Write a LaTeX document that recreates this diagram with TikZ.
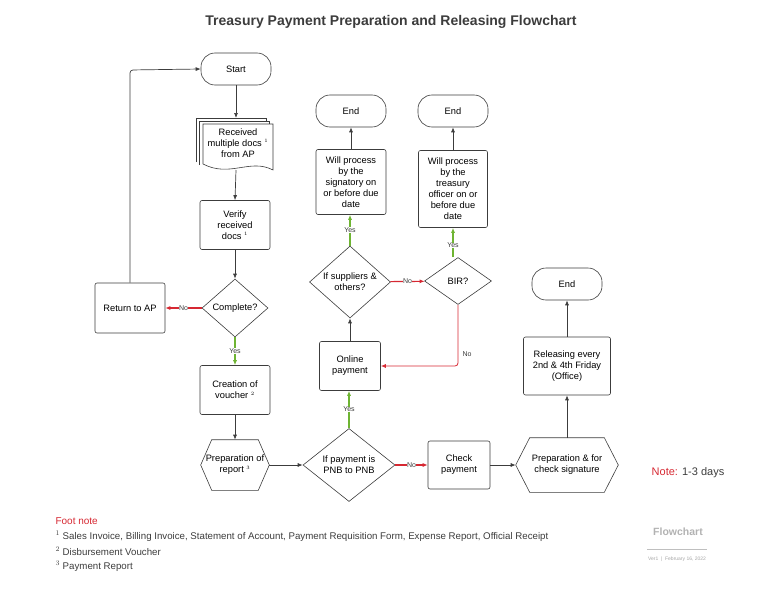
\documentclass[tikz,border=0pt]{standalone}
\usepackage{fontspec}
\setmainfont{Liberation Sans}
\usetikzlibrary{shapes.geometric,arrows.meta}
\definecolor{rd}{RGB}{214,40,50}
\definecolor{gn}{RGB}{110,180,50}
\definecolor{ln}{RGB}{60,60,60}
\tikzset{
  base/.style={font=\fontsize{9.3}{11}\selectfont,align=center,inner sep=1pt,draw=ln,line width=0.6pt},
  term/.style={base,rounded corners=14pt,minimum width=70pt,minimum height=32pt},
  proc/.style={base,rounded corners=2pt},
  dec/.style={base,diamond,aspect=1.15},
  hexn/.style={base,draw=none},
  arr/.style={-{Latex[length=5pt,width=4pt]},line width=0.7pt,ln},
  yes/.style={-{Latex[length=5pt,width=4pt]},line width=1.2pt,gn},
  no/.style={-{Latex[length=5pt,width=4pt]},line width=1.2pt,rd},
  lbl/.style={font=\fontsize{7}{8}\selectfont,fill=white,inner sep=0.5pt,text=ln}
}
\begin{document}
\begin{tikzpicture}[x=1pt,y=-1pt]
\useasboundingbox (0,0) rectangle (768,594);
\node[font=\bfseries\fontsize{14}{16}\selectfont,text=ln] (title) at (391,22) {Treasury Payment Preparation and Releasing Flowchart};
\node[term] (start) at (236,69) {Start};
% multidoc
\draw[ln,line width=0.6pt,fill=white] (196,162) -- (196,118) -- (266,118) -- (266,122);
\draw[ln,line width=0.6pt,fill=white] (199,165) -- (199,121) -- (269,121) -- (269,125);
\draw[ln,line width=0.6pt,fill=white] (203,124) -- (273,124) -- (273,170) .. controls (250,158) and (230,178) .. (203,164) -- cycle;
\node[base,draw=none] (recv) at (238,143) {Received\\multiple docs $^{\scriptscriptstyle 1}$\\from AP};
\node[proc,minimum width=70pt,minimum height=49pt] (ver) at (235,225) {Verify\\received\\docs $^{\scriptscriptstyle 1}$};
\node[dec,minimum width=66pt,minimum height=58pt,inner sep=0pt] (comp) at (235,308) {Complete?};
\node[proc,minimum width=70pt,minimum height=50pt] (ret) at (130,308) {Return to AP};
\node[proc,minimum width=70pt,minimum height=49pt] (vouch) at (235,390) {Creation of\\voucher $^{\scriptscriptstyle 2}$};
\node[hexn,minimum width=68pt,minimum height=50pt,inner sep=0pt] (rep) at (235,465) {Preparation of\\report $^{\scriptscriptstyle 3}$};
\draw[ln,line width=0.6pt] (rep.west) -- ([xshift=11pt]rep.north west) -- ([xshift=-11pt]rep.north east) -- (rep.east) -- ([xshift=-11pt]rep.south east) -- ([xshift=11pt]rep.south west) -- cycle;
\node[dec,minimum width=92pt,minimum height=73pt,inner sep=0pt] (pnb) at (349,465) {If payment is\\PNB to PNB};
\node[proc,minimum width=62pt,minimum height=48pt] (check) at (459,465) {Check\\payment};
\node[hexn,minimum width=102pt,minimum height=54pt] (sig) at (567,465) {Preparation \& for\\check signature};
\draw[ln,line width=0.6pt] (sig.west) -- ([xshift=14pt]sig.north west) -- ([xshift=-14pt]sig.north east) -- (sig.east) -- ([xshift=-14pt]sig.south east) -- ([xshift=14pt]sig.south west) -- cycle;
\node[proc,minimum width=87pt,minimum height=58pt] (rel) at (567,366) {Releasing every\\2nd \& 4th Friday\\(Office)};
\node[term] (end3) at (567,284) {End};
\node[proc,minimum width=61pt,minimum height=49pt] (online) at (350,366) {Online\\payment};
\node[dec,minimum width=81pt,minimum height=72pt,inner sep=0pt] (supp) at (350,282) {If suppliers \&\\others?};
\node[proc,minimum width=70pt,minimum height=65pt] (wp1) at (351,182) {Will process\\by the\\signatory on\\or before due\\date};
\node[term] (end1) at (351,111) {End};
\node[dec,minimum width=67pt,minimum height=47pt,inner sep=0pt] (bir) at (458,281) {BIR?};
\node[proc,minimum width=69pt,minimum height=77pt] (wp2) at (453,189) {Will process\\by the\\treasury\\officer on or\\before due\\date};
\node[term] (end2) at (453,111) {End};
% connectors
\coordinate (c1) at (130,70);
\draw[arr,rounded corners=3pt] (ret.north) -- (c1) -- (start.west);
\draw[arr] (start) -- (236,118);
\draw[arr] (236,170) -- (ver.north);
\draw[arr] (ver) -- (comp);
\draw[no] (comp) -- node[lbl]{No} (ret);
\draw[yes] (comp) -- node[lbl]{Yes} (vouch);
\draw[arr] (vouch) -- (rep);
\draw[arr] (rep) -- (pnb);
\draw[no] (pnb) -- node[lbl]{No} (check);
\draw[arr] (check) -- (sig);
\draw[arr] (sig) -- (rel);
\draw[arr] (rel) -- (end3);
\draw[yes] (pnb.north) -- node[lbl]{Yes} (pnb.north|-online.south);
\draw[arr] (online) -- (supp);
\draw[yes] (supp.north) -- node[lbl]{Yes} (supp.north|-wp1.south);
\draw[no] (supp) -- node[lbl]{No} (bir);
\draw[yes] (bir.north-|wp2.south) -- node[lbl,pos=0.4]{Yes} (wp2.south);
\draw[no,line width=0.8pt,rounded corners=3pt] (bir.south) -- (458,366) -- (online.east);
\node[lbl] (nolbl) at (467,354) {No};
\draw[arr] (wp1) -- (end1);
\draw[arr] (wp2) -- (end2);
% notes
\node[anchor=west,text=rd,font=\fontsize{10}{12}\selectfont] (fn) at (52,521) {Foot note};
\node[anchor=west,font=\fontsize{9.7}{11}\selectfont,text=ln] (f1) at (52,536) {$^1$ Sales Invoice, Billing Invoice, Statement of Account, Payment Requisition Form, Expense Report, Official Receipt};
\node[anchor=west,font=\fontsize{9.7}{11}\selectfont,text=ln] (f2) at (52,551) {$^2$ Disbursement Voucher};
\node[anchor=west,font=\fontsize{9.7}{11}\selectfont,text=ln] (f3) at (52,566) {$^3$ Payment Report};
\node[font=\fontsize{11}{13}\selectfont] (note) at (688,473) {\textcolor{rd}{Note:} \textcolor{ln}{1-3 days}};
\node[font=\bfseries\fontsize{10.5}{12}\selectfont,text=gray!60] (fc) at (678,532) {Flowchart};
\draw[gray!50,line width=0.8pt] (647,549) -- (707,549);
\node[font=\fontsize{5}{6}\selectfont,text=gray!70] (ver1) at (677,559) {Ver1 \ | \ February 16, 2022};
\end{tikzpicture}
\end{document}
